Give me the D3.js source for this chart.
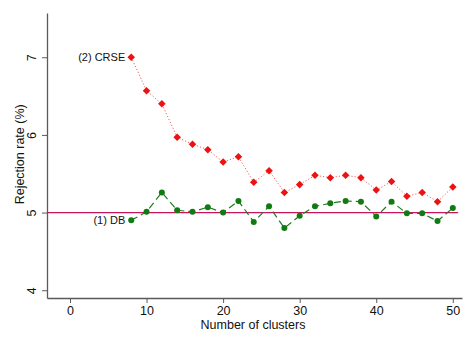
<!DOCTYPE html>
<html>
<head>
<meta charset="utf-8">
<script src="https://cdn.jsdelivr.net/npm/d3@7"></script>
<style>
  html, body { margin: 0; padding: 0; background: #fff; }
  svg { display: block; font-family: "Liberation Sans", Arial, sans-serif; }
</style>
</head>
<body>
<svg id="chart" width="474" height="345"></svg>
<script>
// Number of clusters
const clusters = [8, 10, 12, 14, 16, 18, 20, 22, 24, 26, 28, 30, 32, 34, 36, 38, 40, 42, 44, 46, 48, 50];
// Rejection rate (%) by method
const crse = [7.00, 6.57, 6.40, 5.97, 5.88, 5.81, 5.65, 5.72, 5.39, 5.54, 5.26, 5.36, 5.48, 5.45, 5.48, 5.45, 5.29, 5.40, 5.21, 5.26, 5.14, 5.33];
const db   = [4.90, 5.01, 5.26, 5.03, 5.01, 5.07, 5.00, 5.15, 4.88, 5.08, 4.80, 4.96, 5.08, 5.12, 5.15, 5.14, 4.95, 5.14, 4.99, 4.99, 4.89, 5.06];
const xTicks = [0, 10, 20, 30, 40, 50];
const yTicks = [4, 5, 6, 7];
const nominal = 5;

const svg = d3.select("#chart");
const axisColor = "#5a5a5a";

const x = d3.scaleLinear().domain([-3, 51.2]).range([47, 462]);
const y = d3.scaleLinear().domain([3.9, 7.57]).range([298, 13]);

// Axes
const xAxis = svg.append("g")
  .attr("transform", `translate(0,${y.range()[0]})`)
  .call(d3.axisBottom(x).tickValues(xTicks).tickFormat(d3.format("d"))
    .tickSize(5).tickSizeOuter(0).tickPadding(3));
const yAxis = svg.append("g")
  .attr("transform", `translate(${x.range()[0]},0)`)
  .call(d3.axisLeft(y).tickValues(yTicks).tickFormat(d3.format("d"))
    .tickSize(5).tickSizeOuter(0).tickPadding(0));

[xAxis, yAxis].forEach(g => {
  g.select(".domain").attr("stroke", axisColor).attr("stroke-width", 1.3);
  g.selectAll(".tick line").attr("stroke", axisColor).attr("stroke-width", 1);
  g.selectAll(".tick text").attr("fill", "#111").attr("font-size", 12.5)
    .attr("font-family", "Liberation Sans, Arial, sans-serif");
});

// Vertical tick labels on y axis
yAxis.selectAll(".tick text")
  .attr("x", 0).attr("dy", 0)
  .attr("text-anchor", "middle")
  .attr("transform", "translate(-11,0) rotate(-90)");

// Axis titles
svg.append("text")
  .attr("x", 253).attr("y", 329)
  .attr("text-anchor", "middle")
  .attr("font-size", 12.5).attr("fill", "#111")
  .text("Number of clusters");
svg.append("text")
  .attr("transform", `translate(24,${y(5.75)}) rotate(-90)`)
  .attr("text-anchor", "middle")
  .attr("font-size", 12.5).attr("fill", "#111")
  .text("Rejection rate (%)");

// Nominal 5% reference line
svg.append("line")
  .attr("x1", x.range()[0]).attr("x2", x(50.7))
  .attr("y1", y(nominal)).attr("y2", y(nominal))
  .attr("stroke", "#c8145a").attr("stroke-width", 1.3);

const line = d3.line().x(d => x(d[0])).y(d => y(d[1]));
const crsePts = clusters.map((c, i) => [c, crse[i]]);
const dbPts = clusters.map((c, i) => [c, db[i]]);

// CRSE series: dotted red line with diamonds
svg.append("path").datum(crsePts)
  .attr("d", line).attr("fill", "none")
  .attr("stroke", "#f06060").attr("stroke-width", 1)
  .attr("stroke-dasharray", "1.2,2");
svg.selectAll(".crse").data(crsePts).enter().append("path")
  .attr("class", "crse")
  .attr("transform", d => `translate(${x(d[0])},${y(d[1])})`)
  .attr("d", d3.symbol(d3.symbolDiamond2, 36)())
  .attr("fill", "#ee1111");

// DB series: dashed green line with dots
svg.append("path").datum(dbPts)
  .attr("d", line).attr("fill", "none")
  .attr("stroke", "#1e7a1e").attr("stroke-width", 1.2)
  .attr("stroke-dasharray", "7,4");
svg.selectAll(".db").data(dbPts).enter().append("circle")
  .attr("class", "db")
  .attr("cx", d => x(d[0])).attr("cy", d => y(d[1]))
  .attr("r", 3)
  .attr("fill", "#127a12");

// Series labels
svg.append("text")
  .attr("x", x(clusters[0]) - 6).attr("y", y(crse[0]) + 4)
  .attr("text-anchor", "end").attr("font-size", 11).attr("fill", "#111")
  .text("(2) CRSE");
svg.append("text")
  .attr("x", x(clusters[0]) - 6).attr("y", y(db[0]) + 4)
  .attr("text-anchor", "end").attr("font-size", 11).attr("fill", "#111")
  .text("(1) DB");
</script>
</body>
</html>
